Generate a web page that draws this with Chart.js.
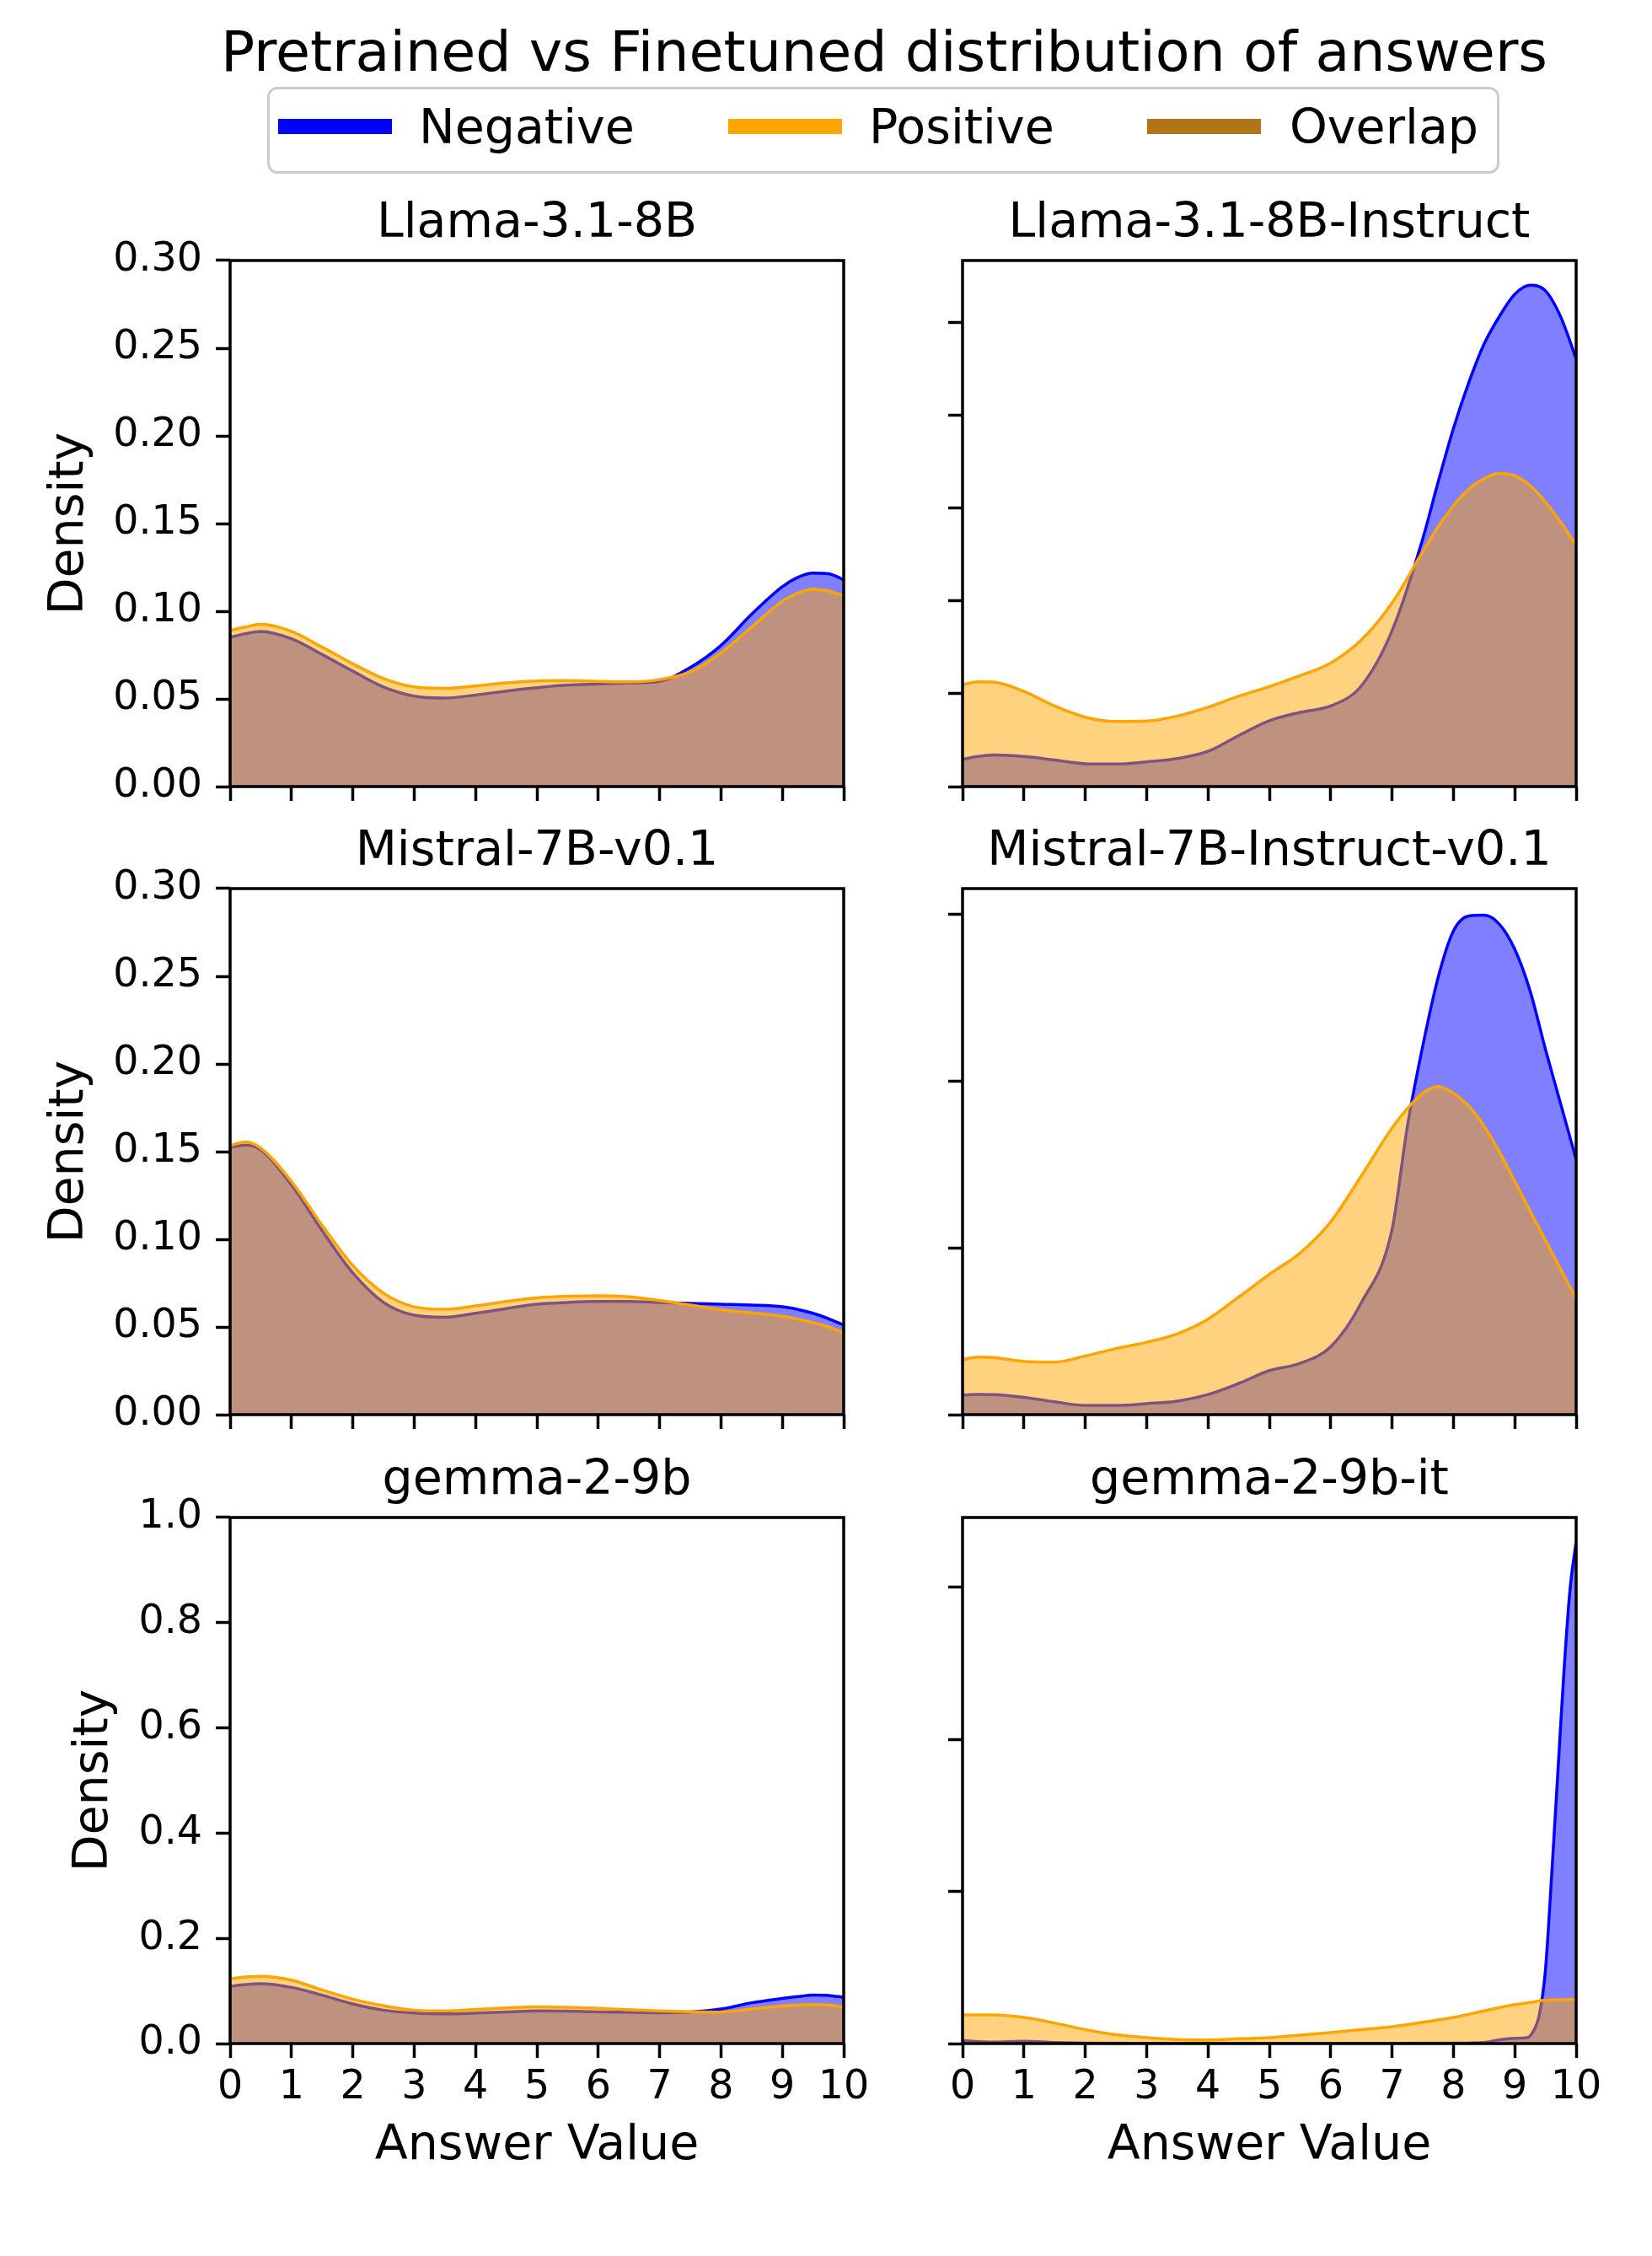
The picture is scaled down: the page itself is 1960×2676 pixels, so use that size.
<!DOCTYPE html>
<html>
<head>
<meta charset="utf-8">
<script src="https://cdn.jsdelivr.net/npm/chart.js@4.4.1/dist/chart.umd.min.js"></script>
<style>
  html,body{margin:0;padding:0;background:#fff;}
  #fig{position:relative;width:1960px;height:2676px;font-family:"DejaVu Sans",sans-serif;color:#000;overflow:hidden;}
  #fig canvas{position:absolute;}
  .txt{position:absolute;white-space:nowrap;line-height:1;}
  #suptitle{font-size:66.7px;left:1049px;top:27.6px;transform:translateX(-50%);}
  #legend{position:absolute;left:317px;top:103px;width:1462px;height:103px;box-sizing:border-box;border:3.5px solid #cccccc;border-radius:12px;background:#fff;}
  .handle{position:absolute;top:141px;width:135px;height:18px;}
  .lbl{font-size:57px;top:121.8px;}
</style>
</head>
<body>
<div id="fig">
  <div id="suptitle" class="txt">Pretrained vs Finetuned distribution of answers</div>
  <div id="legend"></div>
  <div class="handle" style="left:330px;background:#0000ff"></div>
  <div class="txt lbl" style="left:497px">Negative</div>
  <div class="handle" style="left:864px;background:#ffa500"></div>
  <div class="txt lbl" style="left:1031px">Positive</div>
  <div class="handle" style="left:1361px;background:#b27516"></div>
  <div class="txt lbl" style="left:1530px">Overlap</div>
</div>
<script>
// ── data (x = answer value, y = density) ──
const baseGrid = [0,0.25,0.5,1,1.5,2,2.5,3,3.5,4,4.5,5,5.5,6,6.5,7,7.5,8,8.5,9,9.25,9.5,9.75,10];

const llama8bNeg = [0.0851,0.0872,0.0885,0.0843,0.0753,0.0658,0.0568,0.0516,0.0505,0.0522,0.0545,0.0564,0.0579,0.0585,0.0591,0.0600,0.0679,0.0805,0.0983,0.1140,0.1193,0.1218,0.1214,0.1180];
const llama8bPos = [0.0890,0.0910,0.0925,0.0885,0.0795,0.0700,0.0616,0.0568,0.0560,0.0574,0.0591,0.0602,0.0604,0.0600,0.0597,0.0610,0.0654,0.0763,0.0910,0.1057,0.1103,0.1126,0.1115,0.1088];

const llamaItGrid = [0,0.25,0.5,1,1.5,2,2.5,3,3.5,4,4.5,5,5.5,6,6.5,7,7.5,7.75,8,8.25,8.5,8.75,9,9.25,9.5,9.75,10];
const llama8bItNeg = [0.0147,0.0162,0.0170,0.0162,0.0143,0.0123,0.0121,0.0133,0.0151,0.0190,0.0275,0.0355,0.0400,0.0434,0.0543,0.0840,0.1335,0.1640,0.1930,0.2177,0.2385,0.2534,0.2653,0.2702,0.2672,0.2530,0.2306];
const llama8bItPos = [0.0549,0.0565,0.0563,0.0513,0.0434,0.0374,0.0351,0.0353,0.0380,0.0428,0.0487,0.0539,0.0598,0.0666,0.0790,0.0989,0.1266,0.1399,0.1513,0.1603,0.1660,0.1688,0.1675,0.1622,0.1533,0.1424,0.1300];

const mistralNeg = [0.1524,0.1537,0.1510,0.1310,0.1049,0.0808,0.0640,0.0567,0.0555,0.0578,0.0605,0.0630,0.0640,0.0645,0.0645,0.0640,0.0635,0.0630,0.0625,0.0615,0.0600,0.0578,0.0548,0.0511];
const mistralPos = [0.1534,0.1555,0.1520,0.1330,0.1080,0.0850,0.0693,0.0615,0.0601,0.0620,0.0645,0.0666,0.0675,0.0678,0.0672,0.0651,0.0625,0.0599,0.0580,0.0561,0.0545,0.0525,0.0500,0.0467];

const mistralItGrid = [0,0.25,0.5,1,1.5,2,2.5,3,3.5,4,4.5,5,5.5,6,6.5,7,7.25,7.5,7.75,8,8.25,8.5,8.75,9,9.25,9.5,9.75,10];
const mistralItNeg = [0.0117,0.0121,0.0120,0.0104,0.0077,0.0055,0.0055,0.0066,0.0081,0.0121,0.0187,0.0264,0.0308,0.0407,0.0672,0.1110,0.1730,0.2210,0.2620,0.2900,0.2990,0.2995,0.2940,0.2790,0.2540,0.2190,0.1860,0.1530];
const mistralItPos = [0.0330,0.0345,0.0343,0.0319,0.0315,0.0352,0.0396,0.0434,0.0485,0.0573,0.0705,0.0841,0.0969,0.1156,0.1432,0.1718,0.1835,0.1927,0.1967,0.1927,0.1850,0.1729,0.1575,0.1399,0.1220,0.1046,0.0870,0.0694];

const gemmaNeg = [0.1089,0.1120,0.1137,0.1068,0.0920,0.0754,0.0635,0.0579,0.0565,0.0579,0.0600,0.0621,0.0615,0.0600,0.0593,0.0586,0.0600,0.0656,0.0775,0.0858,0.0893,0.0921,0.0914,0.0879];
const gemmaPos = [0.1228,0.1265,0.1280,0.1207,0.1020,0.0844,0.0719,0.0635,0.0621,0.0649,0.0677,0.0698,0.0690,0.0670,0.0645,0.0621,0.0605,0.0598,0.0656,0.0712,0.0733,0.0740,0.0733,0.0691];

const gemmaItNegGrid = [0,0.5,1,1.5,2,3,4,5,6,7,8,8.5,8.75,9,9.2,9.3,9.4,9.5,9.6,9.7,9.8,9.9,10];
const gemmaItNeg = [0.0039,0.0020,0.0030,0.0015,0.0006,0.0002,0.0001,0.0001,0.0001,0.0002,0.0005,0.0015,0.0050,0.0070,0.0078,0.0160,0.0380,0.0970,0.2200,0.3540,0.4880,0.5970,0.6600];
const gemmaItPos = [0.0377,0.0378,0.0377,0.0343,0.0270,0.0184,0.0116,0.0077,0.0053,0.0048,0.0063,0.0077,0.0111,0.0145,0.0184,0.0222,0.0280,0.0343,0.0430,0.0512,0.0540,0.0570,0.0578,0.0582];

const xTicks = [0,1,2,3,4,5,6,7,8,9,10];

// panel list: row, col, y range
const panels = [
  {title:'Llama-3.1-8B',            row:0,col:0,negX:baseGrid,neg:llama8bNeg,posX:baseGrid,pos:llama8bPos,yMax:0.30,yStep:0.05,dec:2},
  {title:'Llama-3.1-8B-Instruct',   row:0,col:1,negX:llamaItGrid,neg:llama8bItNeg,posX:llamaItGrid,pos:llama8bItPos,yMax:0.2835,yStep:0.05,dec:2},
  {title:'Mistral-7B-v0.1',         row:1,col:0,negX:baseGrid,neg:mistralNeg,posX:baseGrid,pos:mistralPos,yMax:0.30,yStep:0.05,dec:2},
  {title:'Mistral-7B-Instruct-v0.1',row:1,col:1,negX:mistralItGrid,neg:mistralItNeg,posX:mistralItGrid,pos:mistralItPos,yMax:0.3154,yStep:0.1,dec:1},
  {title:'gemma-2-9b',              row:2,col:0,negX:baseGrid,neg:gemmaNeg,posX:baseGrid,pos:gemmaPos,yMax:1.0,yStep:0.2,dec:1},
  {title:'gemma-2-9b-it',           row:2,col:1,negX:gemmaItNegGrid,neg:gemmaItNeg,posX:baseGrid,pos:gemmaItPos,yMax:0.692,yStep:0.2,dec:1}
];

// ── layout (px in the 1960x2676 page) ──
const colLeft=[273,1142], colRight=[1001,1870], rowTop=[309,1054,1800], axH=624;
const canvasLeft=[0,1060], canvasWidth=[1060,900];
const titleH=83; // 57px * 1.2 + 14.6 padding

Chart.defaults.font.family='"DejaVu Sans", sans-serif';
Chart.defaults.color='#000';

const framePlugin={id:'frame',afterDatasetsDraw(chart){
  const {ctx,chartArea:a}=chart;
  ctx.save();ctx.strokeStyle='#000';ctx.lineWidth=3.5;
  ctx.strokeRect(a.left,a.top,a.right-a.left,a.bottom-a.top);
  ctx.restore();
}};

const toPts=(xs,ys)=>xs.map((x,i)=>({x,y:ys[i]}));
const tickGrid={display:true,drawOnChartArea:false,drawTicks:true,tickLength:17,tickWidth:3.5,tickColor:'#000'};

panels.forEach(p=>{
  const bottomRow=p.row===2, leftCol=p.col===0;
  const cl=canvasLeft[p.col], cw=canvasWidth[p.col];
  const ct=rowTop[p.row]-titleH;
  const xAxisH=bottomRow?196:30;
  const ch=titleH+axH+xAxisH;
  const yAxisW=colLeft[p.col]-cl;
  const padR=cw-(colRight[p.col]-cl);

  const cv=document.createElement('canvas');
  cv.width=cw;cv.height=ch;
  cv.style.left=cl+'px';cv.style.top=ct+'px';cv.style.width=cw+'px';cv.style.height=ch+'px';
  document.getElementById('fig').appendChild(cv);

  new Chart(cv,{
    type:'line',
    data:{datasets:[
      {label:'Negative',data:toPts(p.negX,p.neg),borderColor:'#0000ff',backgroundColor:'rgba(0,0,255,0.5)',
       fill:'origin',borderWidth:3.5,pointRadius:0,cubicInterpolationMode:'monotone',order:2},
      {label:'Positive',data:toPts(p.posX,p.pos),borderColor:'#ffa500',backgroundColor:'rgba(255,165,0,0.5)',
       fill:'origin',borderWidth:3.5,pointRadius:0,cubicInterpolationMode:'monotone',order:1}
    ]},
    options:{
      responsive:false,animation:false,devicePixelRatio:1,
      layout:{padding:{left:0,right:padR,top:0,bottom:0}},
      plugins:{
        legend:{display:false},tooltip:{enabled:false},
        title:{display:true,text:p.title,fullSize:false,font:{size:57,weight:'normal'},color:'#000',padding:{top:6,bottom:8.6}}
      },
      scales:{
        x:{type:'linear',min:0,max:10,
          afterBuildTicks:s=>{s.ticks=xTicks.map(v=>({value:v}));},
          ticks:{display:bottomRow,font:{size:47.5},color:'#000',padding:7,autoSkip:false,maxRotation:0,minRotation:0},
          grid:tickGrid,border:{display:false},
          title:{display:bottomRow,text:'Answer Value',font:{size:57},color:'#000',padding:{top:0,bottom:39.5}},
          afterFit:s=>{s.height=xAxisH;s.paddingLeft=0;s.paddingRight=0;}
        },
        y:{type:'linear',min:0,max:p.yMax,
          ticks:{display:leftCol,stepSize:p.yStep,includeBounds:false,font:{size:47.5},color:'#000',padding:16,autoSkip:false,
            callback:v=>v.toFixed(p.dec)},
          grid:tickGrid,border:{display:false},
          title:{display:leftCol,text:'Density',font:{size:57},color:'#000',padding:{top:bottomRow?77.8:48.8,bottom:0}},
          afterFit:s=>{s.width=yAxisW;s.paddingTop=0;s.paddingBottom=0;}
        }
      }
    },
    plugins:[framePlugin]
  });
});
</script>
</body>
</html>
